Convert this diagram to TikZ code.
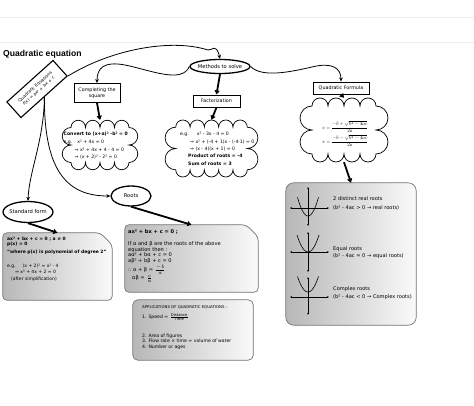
\documentclass[tikz,border=0pt]{standalone}
\usepackage{amsmath}
\usepackage{fontspec}
\setmainfont{DejaVu Sans}
\newfontfamily\titlefont{Liberation Sans}
\usetikzlibrary{shapes.geometric,arrows.meta,calc}
\newcommand\fsz[2]{\fontsize{#1}{#2}\selectfont}
% #1 node name, #2 inner width, #3 inner height, #4 top bumps, #5 side bumps
\newcommand\puffcloud[5]{%
  \pgfmathsetmacro\pcr{#2/#4/2}\pgfmathsetmacro\pcs{#3/#5/2}%
  \draw[line width=0.7pt] (#1.center) ++({-#2/2},{-#3/2})
    \foreach \k in {1,...,#4}{ arc[start angle=180,end angle=0,radius=\pcr pt] }
    \foreach \k in {1,...,#5}{ arc[start angle=90,end angle=-90,radius=\pcs pt] }
    \foreach \k in {1,...,#4}{ arc[start angle=0,end angle=-180,radius=\pcr pt] }
    \foreach \k in {1,...,#5}{ arc[start angle=-90,end angle=-270,radius=\pcs pt] }
    -- cycle;}
\begin{document}
\begin{tikzpicture}[x=1pt,y=-1pt,
  conn/.style={line width=0.8pt, -{Stealth[length=4pt,width=3.6pt]}},
  tarrow/.style={line width=1.8pt, -{Triangle[length=4.2pt,width=5pt]}},
  oval/.style={ellipse, draw, line width=1.3pt, inner xsep=-5pt, inner ysep=0pt, font=\fsz{5.2}{6}},
  rbox/.style={rectangle, draw, line width=0.9pt, inner sep=0pt, align=center, font=\fsz{4.8}{5.8}},
  cloudarea/.style={rectangle, inner sep=0pt},
  gbox/.style={draw=black!55, line width=0.7pt, left color=black!28, right color=black!2},
  txt/.style={anchor=north west, align=left, inner sep=0pt},
  gtxt/.style={anchor=west, inner sep=0pt, font=\fsz{5.1}{5.5}},
  axis/.style={line width=0.45pt, {Stealth[length=2pt,width=1.6pt]}-{Stealth[length=2pt,width=1.6pt]}},
  parab/.style={line width=0.6pt}
]
\useasboundingbox (0,0) rectangle (474,406);
\fill[white] (0,0) rectangle (474,406);
\draw[black!7, line width=0.6pt] (0,17) -- (474,17);
\draw[black!7, line width=0.6pt] (0,42) -- (474,42);

% title
\node[anchor=west, inner sep=0pt, font=\titlefont\bfseries\fsz{8.6}{10}] (title) at (3,54) {Quadratic equation};

% main nodes
\node[rbox, rotate=42, minimum width=62, minimum height=21, line width=1.1pt, font=\fsz{4.3}{5.6}] (qe) at (37,89) {Quadratic Equations\\f(x) = ax² + bx + c};
\node[oval, minimum width=60, minimum height=14] (meth) at (220,66.5) {Methods to solve};
\node[rbox, minimum width=46, minimum height=19] (cs) at (97,93) {Completing the\\square};
\node[rbox, minimum width=47, minimum height=12] (fact) at (216.5,101) {Factorization};
\node[rbox, minimum width=56, minimum height=12] (qf) at (341,88) {Quadratic Formula};
\node[oval, minimum width=50, minimum height=21] (sf) at (28,212) {Standard form};
\node[oval, minimum width=40, minimum height=20] (roots) at (131,196) {Roots};

% clouds
\node[cloudarea, minimum width=75.5, minimum height=49.5] (c1) at (100,145) {};
\puffcloud{c1}{58}{35}{4}{2}
\node[cloudarea, minimum width=93, minimum height=57] (c2) at (211.5,148.5) {};
\puffcloud{c2}{71.5}{42.7}{5}{2}
\node[cloudarea, minimum width=88, minimum height=64] (c3) at (344,130) {};
\puffcloud{c3}{64}{48}{4}{2}

\node[txt, font=\fsz{4.6}{8}] (c1t) at (63.5,131.5) {\textbf{Convert to (x+a)² -b² = 0}\\
e.g.\hspace{5pt}x² + 4x = 0\\
\hspace*{11pt}⇒ x² + 4x + 4 - 4 = 0\\[-0.8pt]
\hspace*{11pt}⇒ (x + 2)² - 2² = 0};

\node[txt, font=\fsz{4.6}{7.6}] (c2t) at (180,131.5) {e.g.\hspace{8pt}x² - 3x - 4 = 0\\[1pt]
\hspace*{10pt}⇒ x² + (-4 + 1)x - (-4·1) = 0\\[-0.8pt]
\hspace*{10pt}⇒ (x - 4)(x + 1) = 0\\[-0.8pt]
\hspace*{8pt}\textbf{Product of roots = -4}\\[0.4pt]
\hspace*{8pt}\textbf{Sum of roots = 3}};

\node[inner sep=0pt, align=center] (c3t) at (345,134) {\resizebox{46pt}{!}{$x=\dfrac{-b+\sqrt{b^2-4ac}}{2a}$}\\[2pt]\resizebox{46pt}{!}{$x=\dfrac{-b-\sqrt{b^2-4ac}}{2a}$}};

% standard form box
\node[minimum width=109, minimum height=67, inner sep=0pt] (sfbox) at (57.5,266.5) {};
\path[gbox, rounded corners=4pt] (sfbox.south west) -- (sfbox.north west) -- ($(sfbox.north east)+(-12,0)$) -- ($(sfbox.north east)+(0,12)$) -- (sfbox.south east) -- cycle;
\node[txt, font=\fsz{4.5}{5.4}] (sft) at (7,236.5) {\textbf{ax² + bx + c = 0 ; a ≠ 0}\\
\textbf{p(x) = 0}\\[2.5pt]
\textbf{"where p(x) is polynomial of degree 2"}\\[8.5pt]
e.g.\hspace{7pt}(x + 2)² = x² - 4\\[0.6pt]
\hspace*{8pt}⇒ x² + 4x + 2 = 0\\[1.4pt]
\hspace*{4pt}(after simplification)};

% roots box
\node[minimum width=133, minimum height=67, inner sep=0pt] (rbox) at (191.5,258.5) {};
\path[gbox, rounded corners=4pt] (rbox.south west) -- (rbox.north west) -- ($(rbox.north east)+(-12,0)$) -- ($(rbox.north east)+(0,12)$) -- (rbox.south east) -- cycle;
\node[txt, font=\fsz{5.1}{5.4}] (rt) at (128,229.5) {\textbf{ax² + bx + c = 0 ;}\\[7pt]
If α and β are the roots of the above\\
equation then :\\
aα² + bα + c = 0\\
aβ² + bβ + c = 0\\[1.2pt]
∴ α + β = $\frac{-b}{a}$\\[0.5pt]
\hspace*{4pt}αβ = $\frac{c}{a}$};

% applications box
\node[minimum width=120, minimum height=60, inner sep=0pt] (apbox) at (193,330) {};
\path[gbox, rounded corners=5pt] (apbox.south west) rectangle (apbox.north east);
\node[txt, font=\fsz{4.6}{5.5}] (apt) at (142,305.5) {{\fsz{3.9}{5}APPLICATIONS OF QUADRATIC EQUATIONS :}\\[4pt]
1. Speed = $\frac{\mbox{\fsz{3.8}{4}Distance}}{\mbox{\fsz{3.8}{4}Time}}$\\[12pt]
2. Area of figures\\
3. Flow rate × time = volume of water\\
4. Number or ages};

% discriminant box
\node[minimum width=130, minimum height=142, inner sep=0pt] (dbox) at (351,254) {};
\path[gbox, rounded corners=8pt] (dbox.south west) rectangle (dbox.north east);

% graphs
\draw[axis] (308,187) -- (308,226);
\draw[axis] (290,208) -- (329,208);
\draw[parab] plot[domain=-10.5:10.5, samples=30, smooth] ({308+\x},{216-0.17*\x*\x});
\draw[axis] (308,232) -- (308,272);
\draw[axis] (290,252) -- (329,252);
\draw[parab] plot[domain=-11:11, samples=30, smooth] ({308+\x},{252-0.14*\x*\x});
\draw[axis] (308,277) -- (308,315);
\draw[axis] (290,297) -- (329,297);
\draw[parab] plot[domain=-10.5:10.5, samples=30, smooth] ({308+\x},{292-0.14*\x*\x});

\node[gtxt] (d1a) at (333,199) {2 distinct real roots};
\node[gtxt] (d1b) at (333,208) {(b² - 4ac > 0 → real roots)};
\node[gtxt] (d2a) at (333,249) {Equal roots};
\node[gtxt] (d2b) at (333,256) {(b² - 4ac = 0 → equal roots)};
\node[gtxt] (d3a) at (333,289) {Complex roots};
\node[gtxt] (d3b) at (333,297) {(b² - 4ac < 0 → Complex roots)};

% connectors
\draw[conn] (qe.south east) .. controls (110,50) and (170,38) .. (208,50) .. controls (212,51) and (216,42) .. (meth.north);
\draw[conn] (qe.south) .. controls (44,140) and (29,172) .. (sf.north);
\draw[conn] (qe.south) .. controls (44,175) and (70,196) .. (roots.west);
\draw[conn] (meth.west) .. controls (182,84) and (150,70) .. (125,65) .. controls (104,61) and (97,68) .. (cs.north);
\draw[conn] (meth.east) .. controls (262,78) and (290,72) .. (312,67) .. controls (332,62) and (341,68) .. (qf.north);
\draw[tarrow] (meth.south) -- (fact.north);
\draw[tarrow] (cs.south) -- (c1.north);
\draw[tarrow] (fact.south) -- (c2.north);
\draw[tarrow] (qf.south) -- (c3.north);
\draw[tarrow] (c3.south) -- (dbox.north);
\draw[tarrow] (sf.south) -- (sfbox.north);
\draw[tarrow] (roots.south) -- (rbox.north);
\end{tikzpicture}
\end{document}
